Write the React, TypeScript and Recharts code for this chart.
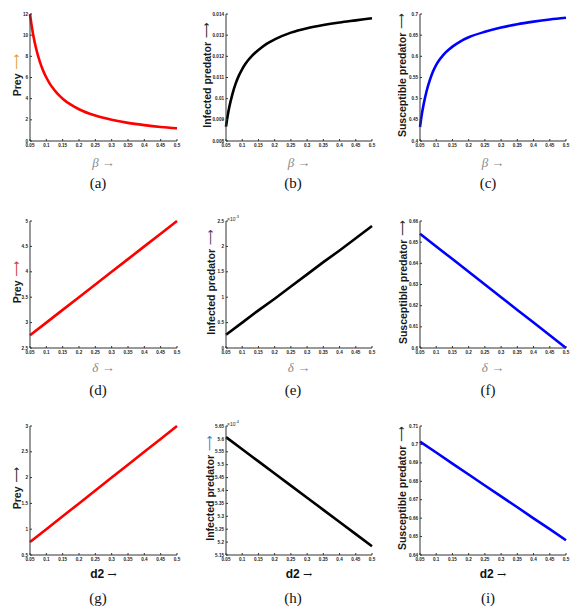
import React from 'react';
import { LineChart, Line, XAxis, YAxis } from 'recharts';

// ---------- data ----------
const betaValues = [0.05, 0.055, 0.06, 0.07, 0.08, 0.09, 0.1, 0.11, 0.12, 0.13, 0.14, 0.15, 0.175, 0.2, 0.25, 0.3, 0.35, 0.4, 0.45, 0.5];
const preyVsBeta = [12, 10.91, 10, 8.57, 7.5, 6.67, 6, 5.45, 5, 4.62, 4.29, 4, 3.43, 3, 2.4, 2, 1.71, 1.5, 1.33, 1.2];
const infectedVsBeta = [0.00868, 0.00918, 0.00959, 0.01023, 0.01072, 0.0111, 0.0114, 0.01165, 0.01185, 0.01202, 0.01217, 0.0123, 0.01259, 0.0128, 0.01312, 0.01333, 0.01348, 0.0136, 0.0137, 0.0138];
const susceptibleVsBeta = [0.433, 0.46, 0.482, 0.517, 0.543, 0.564, 0.58, 0.592, 0.6015, 0.6098, 0.6169, 0.623, 0.6356, 0.645, 0.658, 0.668, 0.676, 0.682, 0.687, 0.691];

const paramValues = [0.05, 0.1, 0.15, 0.2, 0.25, 0.3, 0.35, 0.4, 0.45, 0.5];
const preyVsDelta = [2.75, 3.0, 3.25, 3.5, 3.75, 4.0, 4.25, 4.5, 4.75, 5.0];
const infectedVsDelta = [0.00026, 0.0005, 0.00074, 0.00097, 0.00121, 0.00145, 0.00169, 0.00192, 0.00216, 0.0024];
const susceptibleVsDelta = [0.654, 0.648, 0.642, 0.636, 0.63, 0.624, 0.618, 0.612, 0.606, 0.6];
const preyVsD2 = [0.75, 1.0, 1.25, 1.5, 1.75, 2.0, 2.25, 2.5, 2.75, 3.0];
const infectedVsD2 = [0.0005607, 0.000556, 0.0005513, 0.0005466, 0.0005419, 0.0005372, 0.0005325, 0.0005278, 0.0005231, 0.0005184];
const susceptibleVsD2 = [0.7015, 0.6956, 0.6896, 0.6837, 0.6777, 0.6718, 0.6659, 0.6599, 0.654, 0.648];

// ---------- ticks ----------
const xTicks = [0.05, 0.1, 0.15, 0.2, 0.25, 0.3, 0.35, 0.4, 0.45, 0.5];
const xTickLabels = ['0.05', '0.1', '0.15', '0.2', '0.25', '0.3', '0.35', '0.4', '0.45', '0.5'];

const preyBetaTicks = [0, 2, 4, 6, 8, 10, 12];
const preyBetaLabels = ['0', '2', '4', '6', '8', '10', '12'];
const infBetaTicks = [0.008, 0.009, 0.01, 0.011, 0.012, 0.013, 0.014];
const infBetaLabels = ['0.008', '0.009', '0.01', '0.011', '0.012', '0.013', '0.014'];
const susBetaTicks = [0.4, 0.45, 0.5, 0.55, 0.6, 0.65, 0.7];
const susBetaLabels = ['0.4', '0.45', '0.5', '0.55', '0.6', '0.65', '0.7'];

const preyDeltaTicks = [2.5, 3, 3.5, 4, 4.5, 5];
const preyDeltaLabels = ['2.5', '3', '3.5', '4', '4.5', '5'];
const infDeltaTicks = [0, 0.0005, 0.001, 0.0015, 0.002, 0.0025];
const infDeltaLabels = ['0', '0.5', '1', '1.5', '2', '2.5'];
const susDeltaTicks = [0.6, 0.61, 0.62, 0.63, 0.64, 0.65, 0.66];
const susDeltaLabels = ['0.6', '0.61', '0.62', '0.63', '0.64', '0.65', '0.66'];

const preyD2Ticks = [0.5, 1, 1.5, 2, 2.5, 3];
const preyD2Labels = ['0.5', '1', '1.5', '2', '2.5', '3'];
const infD2Ticks = [0.000515, 0.00052, 0.000525, 0.00053, 0.000535, 0.00054, 0.000545, 0.00055, 0.000555, 0.00056, 0.000565];
const infD2Labels = ['5.15', '5.2', '5.25', '5.3', '5.35', '5.4', '5.45', '5.5', '5.55', '5.6', '5.65'];
const susD2Ticks = [0.64, 0.65, 0.66, 0.67, 0.68, 0.69, 0.7, 0.71];
const susD2Labels = ['0.64', '0.65', '0.66', '0.67', '0.68', '0.69', '0.7', '0.71'];

const toRows = (xs: number[], ys: number[]) => xs.map((x, i) => ({ x, y: ys[i] }));

const AXIS = '#333';
const tickStyle = { fontSize: 4.6, fill: '#222', fontFamily: 'Liberation Sans, Arial, sans-serif', fontWeight: 700 };

type PanelProps = {
  rows: { x: number; y: number }[];
  color: string;
  curve: 'monotone' | 'linear';
  yTicks: number[];
  yLabels: string[];
  left: number;
  top: number;
  w: number;
  h: number;
  ylabel: string;
  arrowColor: string;
  ylabelX: number;
  xlabel: 'beta' | 'delta' | 'd2';
  caption: string;
  captionX: number;
  xlabelY: number;
  captionY: number;
  exponent?: string;
};

const Panel = (p: PanelProps) => {
  const yDomain = [p.yTicks[0], p.yTicks[p.yTicks.length - 1]];
  const cx = p.left + p.w / 2;
  const cy = p.top + p.h / 2;
  return (
    <>
      <div style={{ position: 'absolute', left: p.left - 30, top: p.top - 5 }}>
        <LineChart width={30 + p.w + 10} height={5 + p.h + 15} data={p.rows} margin={{ top: 5, right: 10, left: 0, bottom: 0 }}>
          <XAxis xAxisId="b" dataKey="x" type="number" domain={[0.05, 0.5]} ticks={xTicks} tickFormatter={(v, i) => xTickLabels[i]}
            height={15} tickSize={-2} tickMargin={5} interval={0} tick={tickStyle} stroke={AXIS} axisLine={{ stroke: AXIS }} tickLine={{ stroke: AXIS }} />
          <XAxis xAxisId="t" orientation="top" dataKey="x" type="number" domain={[0.05, 0.5]} ticks={xTicks}
            height={0} tickSize={-2} tick={false} interval={0} axisLine={{ stroke: AXIS }} tickLine={{ stroke: AXIS }} />
          <YAxis yAxisId="l" type="number" domain={yDomain} ticks={p.yTicks} tickFormatter={(v, i) => p.yLabels[i]}
            width={30} tickSize={-2} tickMargin={4} interval={0} tick={tickStyle} axisLine={{ stroke: AXIS }} tickLine={{ stroke: AXIS }} />
          <YAxis yAxisId="r" orientation="right" type="number" domain={yDomain} ticks={p.yTicks}
            width={0} tickSize={-2} tick={false} interval={0} axisLine={{ stroke: AXIS }} tickLine={{ stroke: AXIS }} />
          <Line xAxisId="b" yAxisId="l" dataKey="y" type={p.curve} stroke={p.color} strokeWidth={2.6} dot={false} isAnimationActive={false} />
        </LineChart>
      </div>
      {p.exponent && (
        <div style={{ position: 'absolute', left: p.left + 1, top: p.top - 7, fontSize: 5, fontFamily: 'Liberation Sans, sans-serif', color: '#222', whiteSpace: 'nowrap', lineHeight: '6px' }}>
          ×10<sup style={{ fontSize: 4 }}>{p.exponent}</sup>
        </div>
      )}
      <div style={{
        position: 'absolute', left: p.ylabelX, top: cy - 3, transform: 'translate(-50%, -50%) rotate(-90deg)',
        display: 'flex', alignItems: 'center', whiteSpace: 'nowrap'
      }}>
        <span style={{ fontFamily: 'Liberation Sans, Arial, sans-serif', fontWeight: 700, fontSize: 10.5, color: '#1a1a1a', lineHeight: '12px' }}>{p.ylabel}</span>
        <span style={{ marginLeft: 4, fontFamily: 'DejaVu Sans, sans-serif', fontSize: 11, color: p.arrowColor, lineHeight: '12px' }}>⟶</span>
      </div>
      <div style={{
        position: 'absolute', left: cx, top: p.xlabelY, transform: 'translate(-50%, -50%)', whiteSpace: 'nowrap', lineHeight: '14px'
      }}>
        {p.xlabel === 'd2' ? (
          <span style={{ fontFamily: 'Liberation Sans, Arial, sans-serif', fontWeight: 700, fontSize: 12, color: '#111' }}>
            d2 <span style={{ fontFamily: 'DejaVu Serif, serif', fontWeight: 400, fontSize: 11 }}>→</span>
          </span>
        ) : (
          <span style={{ fontFamily: 'Liberation Serif, serif', fontSize: 13, color: '#8a8a8a' }}>
            <i>{p.xlabel === 'beta' ? 'β' : 'δ'}</i> →
          </span>
        )}
      </div>
      <div style={{
        position: 'absolute', left: p.captionX, top: p.captionY, transform: 'translate(-50%, -50%)', whiteSpace: 'nowrap',
        fontFamily: 'Liberation Serif, serif', fontSize: 15, color: '#111', lineHeight: '16px'
      }}>
        {p.caption}
      </div>
    </>
  );
};

export default function App() {
  const colL = [30, 226, 420];
  const colW = [147, 146, 146];
  const rowT = [14, 221, 426];
  const rowH = [127, 127, 129];
  const xlabelY = [162, 367, 574];
  const captionY = [183, 390, 598];
  const captionX = [98, 293, 488];

  return (
    <div style={{ position: 'absolute', left: 0, top: 0, width: 587, height: 615, background: '#fff', overflow: 'hidden' }}>
      <Panel rows={toRows(betaValues, preyVsBeta)} color="#ff0000" curve="monotone" yTicks={preyBetaTicks} yLabels={preyBetaLabels}
        left={colL[0]} top={rowT[0]} w={colW[0]} h={rowH[0]} ylabel="Prey" arrowColor="#e09a30" ylabelX={17}
        xlabel="beta" caption="(a)" captionX={captionX[0]} xlabelY={xlabelY[0]} captionY={captionY[0]} />
      <Panel rows={toRows(betaValues, infectedVsBeta)} color="#000000" curve="monotone" yTicks={infBetaTicks} yLabels={infBetaLabels}
        left={colL[1]} top={rowT[0]} w={colW[1]} h={rowH[0]} ylabel="Infected predator" arrowColor="#222" ylabelX={207}
        xlabel="beta" caption="(b)" captionX={captionX[1]} xlabelY={xlabelY[0]} captionY={captionY[0]} />
      <Panel rows={toRows(betaValues, susceptibleVsBeta)} color="#0000ff" curve="monotone" yTicks={susBetaTicks} yLabels={susBetaLabels}
        left={colL[2]} top={rowT[0]} w={colW[2]} h={rowH[0]} ylabel="Susceptible predator" arrowColor="#222" ylabelX={402}
        xlabel="beta" caption="(c)" captionX={captionX[2]} xlabelY={xlabelY[0]} captionY={captionY[0]} />

      <Panel rows={toRows(paramValues, preyVsDelta)} color="#ff0000" curve="linear" yTicks={preyDeltaTicks} yLabels={preyDeltaLabels}
        left={colL[0]} top={rowT[1]} w={colW[0]} h={rowH[1]} ylabel="Prey" arrowColor="#cc3333" ylabelX={17}
        xlabel="delta" caption="(d)" captionX={captionX[0]} xlabelY={xlabelY[1]} captionY={captionY[1]} />
      <Panel rows={toRows(paramValues, infectedVsDelta)} color="#000000" curve="linear" yTicks={infDeltaTicks} yLabels={infDeltaLabels}
        left={colL[1]} top={rowT[1]} w={colW[1]} h={rowH[1]} ylabel="Infected predator" arrowColor="#4a3a6a" ylabelX={211}
        xlabel="delta" caption="(e)" captionX={captionX[1]} xlabelY={xlabelY[1]} captionY={captionY[1]} exponent="-3" />
      <Panel rows={toRows(paramValues, susceptibleVsDelta)} color="#0000ff" curve="linear" yTicks={susDeltaTicks} yLabels={susDeltaLabels}
        left={colL[2]} top={rowT[1]} w={colW[2]} h={rowH[1]} ylabel="Susceptible predator" arrowColor="#222" ylabelX={403}
        xlabel="delta" caption="(f)" captionX={captionX[2]} xlabelY={xlabelY[1]} captionY={captionY[1]} />

      <Panel rows={toRows(paramValues, preyVsD2)} color="#ff0000" curve="linear" yTicks={preyD2Ticks} yLabels={preyD2Labels}
        left={colL[0]} top={rowT[2]} w={colW[0]} h={rowH[2]} ylabel="Prey" arrowColor="#222" ylabelX={17}
        xlabel="d2" caption="(g)" captionX={captionX[0]} xlabelY={xlabelY[2]} captionY={captionY[2]} />
      <Panel rows={toRows(paramValues, infectedVsD2)} color="#000000" curve="linear" yTicks={infD2Ticks} yLabels={infD2Labels}
        left={colL[1]} top={rowT[2]} w={colW[1]} h={rowH[2]} ylabel="Infected predator" arrowColor="#3b7bd0" ylabelX={210}
        xlabel="d2" caption="(h)" captionX={captionX[1]} xlabelY={xlabelY[2]} captionY={captionY[2]} exponent="-4" />
      <Panel rows={toRows(paramValues, susceptibleVsD2)} color="#0000ff" curve="linear" yTicks={susD2Ticks} yLabels={susD2Labels}
        left={colL[2]} top={rowT[2]} w={colW[2]} h={rowH[2]} ylabel="Susceptible predator" arrowColor="#222" ylabelX={402}
        xlabel="d2" caption="(i)" captionX={captionX[2]} xlabelY={xlabelY[2]} captionY={captionY[2]} />
    </div>
  );
}
